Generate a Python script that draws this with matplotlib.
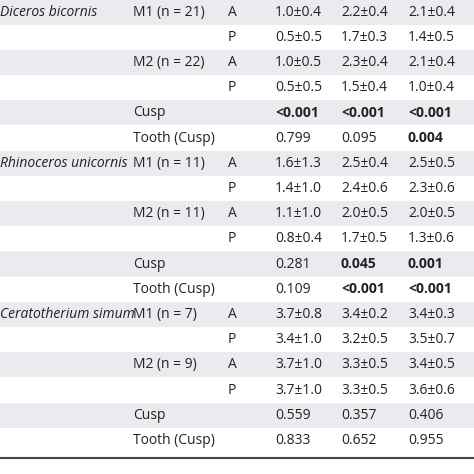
import matplotlib.pyplot as plt
from matplotlib.patches import Rectangle

species = ["Diceros bicornis", "", "", "", "", "",
           "Rhinoceros unicornis", "", "", "", "", "",
           "Ceratotherium simum", "", "", "", "", ""]
tooth = ["M1 (n\u2009=\u200921)", "", "M2 (n\u2009=\u200922)", "", "Cusp", "Tooth (Cusp)",
         "M1 (n\u2009=\u200911)", "", "M2 (n\u2009=\u200911)", "", "Cusp", "Tooth (Cusp)",
         "M1 (n\u2009=\u20097)", "", "M2 (n\u2009=\u20099)", "", "Cusp", "Tooth (Cusp)"]
cusp = ["A", "P", "A", "P", "", ""] * 3
col1 = ["1.0±0.4", "0.5±0.5", "1.0±0.5", "0.5±0.5", "<0.001", "0.799",
        "1.6±1.3", "1.4±1.0", "1.1±1.0", "0.8±0.4", "0.281", "0.109",
        "3.7±0.8", "3.4±1.0", "3.7±1.0", "3.7±1.0", "0.559", "0.833"]
col2 = ["2.2±0.4", "1.7±0.3", "2.3±0.4", "1.5±0.4", "<0.001", "0.095",
        "2.5±0.4", "2.4±0.6", "2.0±0.5", "1.7±0.5", "0.045", "<0.001",
        "3.4±0.2", "3.2±0.5", "3.3±0.5", "3.3±0.5", "0.357", "0.652"]
col3 = ["2.1±0.4", "1.4±0.5", "2.1±0.4", "1.0±0.4", "<0.001", "0.004",
        "2.5±0.5", "2.3±0.6", "2.0±0.5", "1.3±0.6", "0.001", "<0.001",
        "3.4±0.3", "3.5±0.7", "3.4±0.5", "3.6±0.6", "0.406", "0.955"]
bold = {(4, 0), (4, 1), (4, 2), (5, 2), (10, 1), (10, 2), (11, 1), (11, 2)}

fig = plt.figure(figsize=(4.74, 4.74), dpi=100)
ax = fig.add_axes([0, 0, 1, 1])
ax.set_xlim(0, 474)
ax.set_ylim(474, 0)
ax.axis("off")
fam = ["Open Sans", "DejaVu Sans"]
fs = 10
h = 25.2
for i in range(18):
    yc = 12 + h * i
    if i % 2 == 0:
        ax.add_patch(Rectangle((0, yc - h / 2), 474, h, color="#e9ebef", lw=0))
    ax.text(0, yc, species[i], style="italic", family=fam, fontsize=fs, va="center", color="#222")
    ax.text(133, yc, tooth[i].replace("\u2009", " "), family=fam, fontsize=fs, va="center", color="#222")
    ax.text(228, yc, cusp[i], family=fam, fontsize=fs, va="center", color="#222")
    for j, (x, c) in enumerate(zip([275, 341, 408], [col1, col2, col3])):
        ax.text(x, yc, c[i], family=fam, fontsize=fs, va="center", color="#222",
                weight="bold" if (i, j) in bold else "normal")
ax.plot([0, 474], [457.5, 457.5], color="#444", lw=1.5)
fig.savefig("out.png", dpi=100)
